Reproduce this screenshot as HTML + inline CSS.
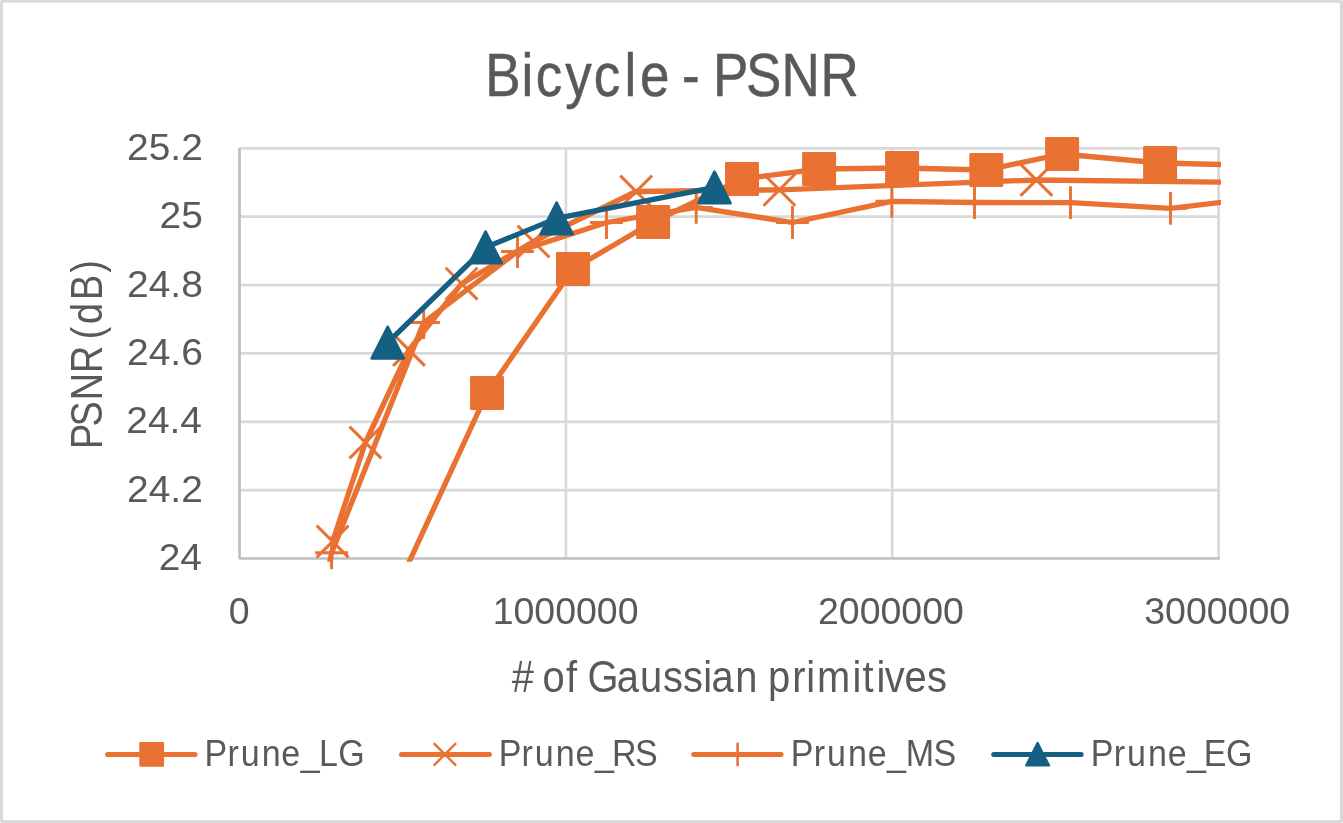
<!DOCTYPE html>
<html lang="en">
<head>
<meta charset="utf-8">
<title>Bicycle - PSNR</title>
<style>
html,body{margin:0;padding:0;background:#fff;}
body{width:1343px;height:823px;overflow:hidden;}
svg{display:block;}
text{font-family:"Liberation Sans",Arial,sans-serif;fill:#595959;font-kerning:none;}
.tick{font-size:37.8px;}
.atitle{font-size:43.8px;}
.title{font-size:60.2px;stroke:#595959;stroke-width:0.5px;}
.leg{font-size:37.8px;}
</style>
</head>
<body>
<svg width="1343" height="823" viewBox="0 0 1343 823">

<rect x="0" y="0" width="1343" height="823" rx="2" fill="#D9D9D9"/>
<rect x="2.9" y="2.7" width="1337" height="817.5" fill="#fff"/>
<g stroke="#D9D9D9" stroke-width="2.7" fill="none">
<path d="M239.6 148.30H1219.9"/>
<path d="M239.6 216.67H1219.9"/>
<path d="M239.6 285.04H1219.9"/>
<path d="M239.6 353.41H1219.9"/>
<path d="M239.6 421.78H1219.9"/>
<path d="M239.6 490.15H1219.9"/>
<path d="M565.90 147.0V558.5"/>
<path d="M892.25 147.0V558.5"/>
<path d="M1218.60 147.0V558.5"/>
</g>
<g stroke="#BFBFBF" stroke-width="2.7" fill="none">
<path d="M239.55 147.7V558.8"/>
<path d="M239.2 558.52H1219.9"/>
</g>
<defs><clipPath id="pc"><rect x="236" y="144.5" width="985" height="417.3"/></clipPath></defs>
<g clip-path="url(#pc)"><polyline points="387.0,610.0 487.0,393.0 573.0,269.0 653.1,222.0 742.0,179.0 819.1,169.0 902.1,168.0 986.3,170.0 1062.1,154.0 1160.1,163.0 1250.0,165.2" fill="none" stroke="#E97132" stroke-width="5.3" stroke-linejoin="round" stroke-linecap="round"/></g>
<g fill="#E97132" stroke="#E97132" stroke-width="2.7" stroke-linejoin="round">
<rect x="471.35" y="377.35" width="31.3" height="31.3"/>
<rect x="557.35" y="253.35" width="31.3" height="31.3"/>
<rect x="637.45" y="206.35" width="31.3" height="31.3"/>
<rect x="726.35" y="163.35" width="31.3" height="31.3"/>
<rect x="803.45" y="153.35" width="31.3" height="31.3"/>
<rect x="886.45" y="152.35" width="31.3" height="31.3"/>
<rect x="970.65" y="154.35" width="31.3" height="31.3"/>
<rect x="1046.45" y="138.35" width="31.3" height="31.3"/>
<rect x="1144.45" y="147.35" width="31.3" height="31.3"/>
</g>
<g clip-path="url(#pc)"><polyline points="332.6,541.5 365.4,442.5 409.0,350.0 461.6,283.7 533.5,241.5 636.2,191.5 779.4,189.8 1036.4,180.0 1250.0,182.4" fill="none" stroke="#E97132" stroke-width="5.3" stroke-linejoin="round" stroke-linecap="round"/></g>
<g fill="none" stroke="#E97132" stroke-width="2.9" stroke-linejoin="round">
<path d="M316.70 525.60L348.50 557.40M316.70 557.40L348.50 525.60"/>
<path d="M349.50 426.60L381.30 458.40M349.50 458.40L381.30 426.60"/>
<path d="M393.10 334.10L424.90 365.90M393.10 365.90L424.90 334.10"/>
<path d="M445.70 267.80L477.50 299.60M445.70 299.60L477.50 267.80"/>
<path d="M517.60 225.60L549.40 257.40M517.60 257.40L549.40 225.60"/>
<path d="M620.30 175.60L652.10 207.40M620.30 207.40L652.10 175.60"/>
<path d="M763.50 173.90L795.30 205.70M763.50 205.70L795.30 173.90"/>
<path d="M1020.50 164.10L1052.30 195.90M1020.50 195.90L1052.30 164.10"/>
</g>
<g clip-path="url(#pc)"><polyline points="328.6,567.8 331.6,552.8 423.7,322.5 517.5,251.5 606.5,222.5 696.2,207.4 792.5,222.5 891.8,201.3 974.5,202.5 1070.5,202.7 1170.5,208.4 1250.0,198.9" fill="none" stroke="#E97132" stroke-width="5.3" stroke-linejoin="round" stroke-linecap="round"/></g>
<g fill="none" stroke="#E97132" stroke-width="2.9" stroke-linejoin="round">
<path d="M315.20 552.80H348.00M331.60 536.40V569.20"/>
<path d="M407.30 322.50H440.10M423.70 306.10V338.90"/>
<path d="M501.10 251.50H533.90M517.50 235.10V267.90"/>
<path d="M590.10 222.50H622.90M606.50 206.10V238.90"/>
<path d="M679.80 207.40H712.60M696.20 191.00V223.80"/>
<path d="M776.10 222.50H808.90M792.50 206.10V238.90"/>
<path d="M875.40 201.30H908.20M891.80 184.90V217.70"/>
<path d="M958.10 202.50H990.90M974.50 186.10V218.90"/>
<path d="M1054.10 202.70H1086.90M1070.50 186.30V219.10"/>
<path d="M1154.10 208.40H1186.90M1170.50 192.00V224.80"/>
</g>
<g clip-path="url(#pc)"><polyline points="387.7,342.6 485.6,247.4 556.6,218.4 714.5,187.4" fill="none" stroke="#156082" stroke-width="5.3" stroke-linejoin="round" stroke-linecap="round"/></g>
<g fill="#156082" stroke="#156082" stroke-width="2.7" stroke-linejoin="round">
<path d="M387.70 326.80L403.70 358.40H371.70Z"/>
<path d="M485.60 231.60L501.60 263.20H469.60Z"/>
<path d="M556.60 202.60L572.60 234.20H540.60Z"/>
<path d="M714.50 171.60L730.50 203.20H698.50Z"/>
</g>
<text class="tick" transform="translate(202.80 159.90) scale(1.03 1)" text-anchor="end">25.2</text>
<text class="tick" transform="translate(202.80 228.27) scale(1.03 1)" text-anchor="end">25</text>
<text class="tick" transform="translate(202.80 296.64) scale(1.03 1)" text-anchor="end">24.8</text>
<text class="tick" transform="translate(202.80 365.01) scale(1.03 1)" text-anchor="end">24.6</text>
<text class="tick" transform="translate(202.00 433.38) scale(1.03 1)" text-anchor="end">24.4</text>
<text class="tick" transform="translate(202.80 501.75) scale(1.03 1)" text-anchor="end">24.2</text>
<text class="tick" transform="translate(202.00 570.12) scale(1.03 1)" text-anchor="end">24</text>
<text class="tick" transform="translate(239.25 624.00) scale(0.992 1)" text-anchor="middle">0</text>
<text class="tick" transform="translate(565.60 624.00) scale(0.992 1)" text-anchor="middle">1000000</text>
<text class="tick" transform="translate(890.95 624.00) scale(0.992 1)" text-anchor="middle">2000000</text>
<text class="tick" transform="translate(1217.20 624.00) scale(0.992 1)" text-anchor="middle">3000000</text>
<text class="title" transform="translate(0.00 95.80) scale(0.88 1)" x="551.37 592.53 608.84 642.32 674.58 709.66 727.24 760.72 775.09 795.14 810.12 847.78 888.19 932.47" y="0">Bicycle - PSNR</text>
<text class="atitle" transform="translate(0.00 691.70) scale(0.91 1)" x="562.39 586.75 596.12 622.09 634.26 645.59 677.66 703.35 728.46 750.61 772.84 782.00 807.90 832.26 844.03 870.52 886.02 897.90 936.74 947.70 963.28 972.24 994.07 1018.74" y="0"># of Gaussian primitives</text>
<text class="atitle" transform="translate(101.50 445.20) rotate(-90) scale(0.863 1)" x="-4.47 21.61 52.19 83.81 115.44 122.65 140.46 168.35 199.85" y="0">PSNR (dB)</text>
<path d="M107.6 754.4H195.1" stroke="#E97132" stroke-width="5" stroke-linecap="round" fill="none"/>
<rect x="140.5" y="743.2" width="22.4" height="22.4" fill="#E97132" stroke="#E97132" stroke-width="2.4" stroke-linejoin="round"/>
<text class="leg" transform="translate(0.00 766.20) scale(0.9 1)" x="227.28 252.65 267.41 290.85 312.64 334.23 354.57 375.82" y="0">Prune_LG</text>
<path d="M401.5 754.4H489.4" stroke="#E97132" stroke-width="5" stroke-linecap="round" fill="none"/>
<path d="M433.7 743.2L456.1 765.6M433.7 765.6L456.1 743.2" stroke="#E97132" stroke-width="2.4" fill="none"/>
<text class="leg" transform="translate(0.00 766.20) scale(0.9 1)" x="554.06 579.43 594.18 617.63 639.41 661.01 679.96 705.57" y="0">Prune_RS</text>
<path d="M693.7 754.4H781.1" stroke="#E97132" stroke-width="5" stroke-linecap="round" fill="none"/>
<path d="M737.6 742.7V766.1" stroke="#E97132" stroke-width="2.6" fill="none"/>
<text class="leg" transform="translate(0.00 766.20) scale(0.9 1)" x="878.73 904.10 918.85 942.29 964.08 985.67 1006.42 1037.24" y="0">Prune_MS</text>
<path d="M993.7 754.4H1081.1" stroke="#156082" stroke-width="5" stroke-linecap="round" fill="none"/>
<path d="M1037.6 743.1L1048.9 765.4H1026.3Z" fill="#156082" stroke="#156082" stroke-width="2.4" stroke-linejoin="round"/>
<text class="leg" transform="translate(0.00 766.20) scale(0.9 1)" x="1212.06 1237.43 1252.18 1275.63 1297.41 1319.01 1337.60 1362.37" y="0">Prune_EG</text>
</svg>
</body>
</html>
